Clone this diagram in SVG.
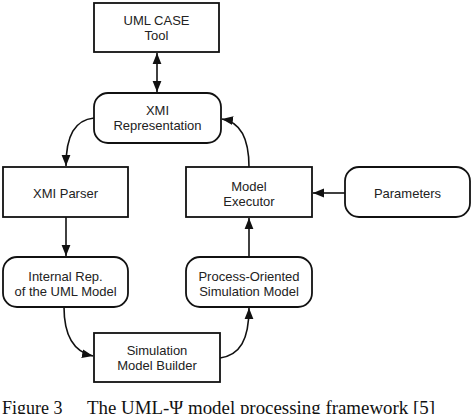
<svg xmlns="http://www.w3.org/2000/svg" width="474" height="414" viewBox="0 0 474 414">
<defs>
<style>
.box{fill:#fff;stroke:#111;stroke-width:1.8}
.lbl{font-family:"Liberation Sans",Arial,sans-serif;font-size:13px;fill:#222;text-anchor:middle}
.con{fill:none;stroke:#111;stroke-width:1.6}
.cap{font-family:"Liberation Serif","Times New Roman",serif;font-size:18px;fill:#111}
</style>
<marker id="ah" viewBox="0 0 10 10" refX="10" refY="5" markerWidth="11" markerHeight="11" markerUnits="userSpaceOnUse" orient="auto-start-reverse">
<path d="M0,1 L10,5 L0,9 Z" fill="#111"/>
</marker>
</defs>
<rect width="474" height="414" fill="#fff"/>
<g id="connectors">
<line class="con" x1="157" y1="53" x2="157" y2="92" marker-start="url(#ah)" marker-end="url(#ah)"/>
<path class="con" d="M94,118 C75,120 66,135 66,166" marker-end="url(#ah)"/>
<line class="con" x1="66" y1="217" x2="66" y2="256" marker-end="url(#ah)"/>
<path class="con" d="M64,307 C64,335 74,352 93,356" marker-end="url(#ah)"/>
<path class="con" d="M220,358 C240,355 249,340 249,308" marker-end="url(#ah)"/>
<line class="con" x1="249" y1="257" x2="249" y2="218" marker-end="url(#ah)"/>
<line class="con" x1="345" y1="193" x2="313" y2="193" marker-end="url(#ah)"/>
<path class="con" d="M249,167 C249,140 241,122 222,119" marker-end="url(#ah)"/>
</g>
<g id="uml-case-tool">
<rect class="box" x="94" y="3" width="125" height="49"/>
<text class="lbl" x="156.5" y="25">UML CASE</text>
<text class="lbl" x="156.5" y="40">Tool</text>
</g>
<g id="xmi-representation">
<rect class="box" x="94" y="93" width="127" height="50" rx="14"/>
<text class="lbl" x="157.5" y="115">XMI</text>
<text class="lbl" x="157.5" y="130">Representation</text>
</g>
<g id="xmi-parser">
<rect class="box" x="3" y="167" width="125" height="50"/>
<text class="lbl" x="65.5" y="198">XMI Parser</text>
</g>
<g id="model-executor">
<rect class="box" x="186" y="167" width="126" height="50"/>
<text class="lbl" x="249" y="191">Model</text>
<text class="lbl" x="249" y="206">Executor</text>
</g>
<g id="parameters">
<rect class="box" x="345" y="167" width="125" height="50" rx="14"/>
<text class="lbl" x="407.5" y="198">Parameters</text>
</g>
<g id="internal-rep">
<rect class="box" x="3" y="257" width="125" height="50" rx="14"/>
<text class="lbl" x="65.5" y="281">Internal Rep.</text>
<text class="lbl" x="65.5" y="296">of the UML Model</text>
</g>
<g id="process-oriented">
<rect class="box" x="186" y="257" width="126" height="50" rx="14"/>
<text class="lbl" x="249" y="281">Process-Oriented</text>
<text class="lbl" x="249" y="296">Simulation Model</text>
</g>
<g id="simulation-model-builder">
<rect class="box" x="94" y="333" width="126" height="49"/>
<text class="lbl" x="157" y="355">Simulation</text>
<text class="lbl" x="157" y="370">Model Builder</text>
</g>
<g id="caption">
<text class="cap" x="2" y="414">Figure 3</text>
<text class="cap" x="87" y="414" textLength="348" lengthAdjust="spacingAndGlyphs">The UML-Ψ model processing framework [5]</text>
</g>
</svg>
